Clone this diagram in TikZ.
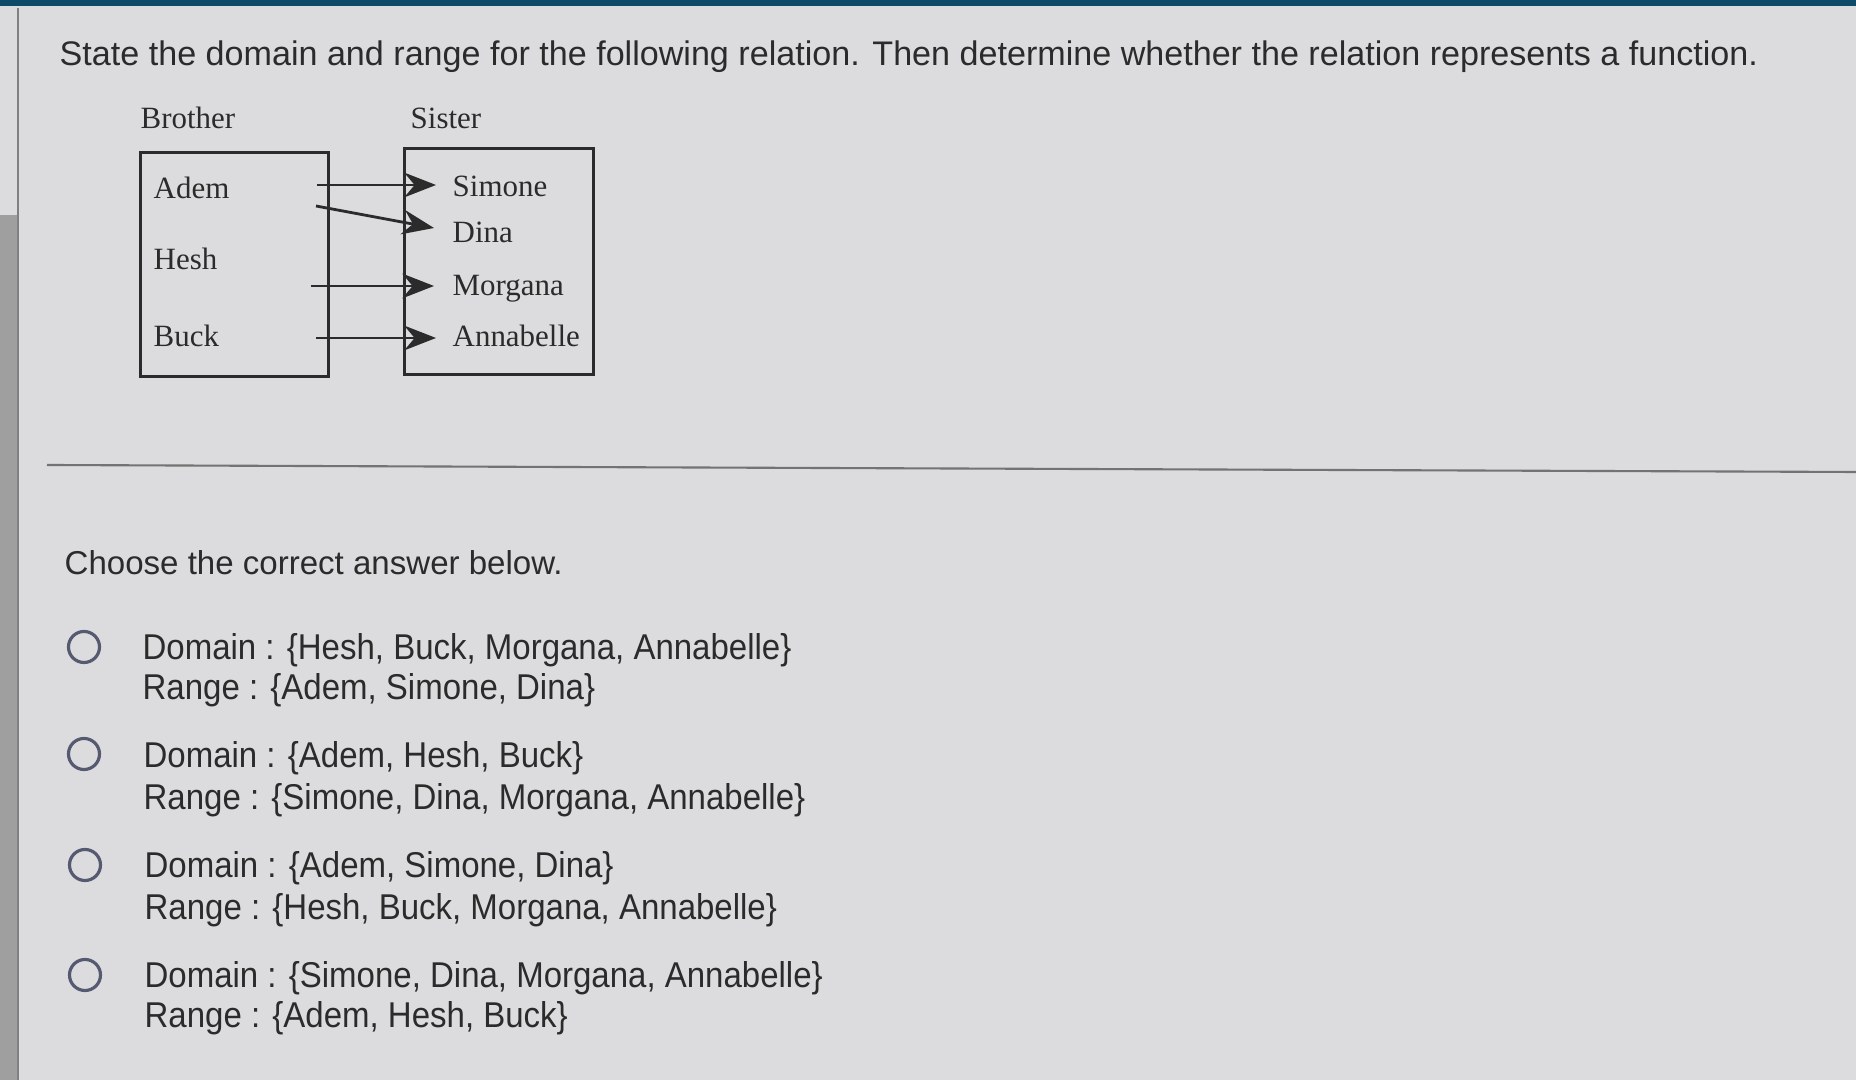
\documentclass[tikz,border=0pt]{standalone}
\usepackage{fontspec}
\setmainfont{Liberation Sans}
\newfontfamily\timesfont{Liberation Serif}
\usetikzlibrary{arrows.meta}
\definecolor{screen}{HTML}{DCDCDE}
\definecolor{ink}{HTML}{2B2B2B}
\definecolor{radio}{HTML}{555A70}
\definecolor{topbar}{HTML}{0D4C68}

\begin{document}
\begin{tikzpicture}[x=0.01cm, y=-0.01cm,
    txt/.style={anchor=base west, inner sep=0pt, text=ink, font=\fontsize{9.6}{11}\selectfont},
    option/.style={txt, font=\fontsize{10.2}{12}\selectfont, xscale=0.92, transform shape},
    person/.style={anchor=base west, inner sep=0pt, text=ink, font=\timesfont\fontsize{8.8}{10}\selectfont},
    setbox/.style={draw=ink, line width=0.9pt, anchor=north west, inner sep=0pt},
    rel/.style={-{Stealth[length=9pt,width=7pt]}, draw=ink, line width=0.8pt},
    choice/.style={circle, draw=radio, line width=0.9pt, minimum size=0.31cm, inner sep=0pt}]
    \fill[screen] (0,0) rectangle (1856,1080);
    \useasboundingbox (0,0) rectangle (1856,1080);
    \fill[topbar] (0,0) rectangle (1856,6);
    \fill[gray!75] (0,215) rectangle (17,1080);
    \draw[gray, line width=0.5pt] (18,8) -- (18,1080);

    \node[txt, font=\fontsize{9.7}{11}\selectfont] (question) at (59,66)
        {State the domain and range for the following relation. Then determine whether the relation represents a function.};

    \node[person] (brother) at (140,129) {Brother};
    \node[person] (sister) at (410,129) {Sister};
    \node[setbox, minimum width=1.88cm, minimum height=2.24cm] (brobox) at (139,151) {};
    \node[setbox, minimum width=1.89cm, minimum height=2.26cm] (sisbox) at (403,147) {};

    \node[person] (adem) at (153,199) {Adem};
    \node[person] (hesh) at (153,270) {Hesh};
    \node[person] (buck) at (153,347) {Buck};
    \node[person] (simone) at (452,197) {Simone};
    \node[person] (dina) at (452,243) {Dina};
    \node[person] (morgana) at (452,296) {Morgana};
    \node[person] (annabelle) at (452,347) {Annabelle};

    \coordinate (a1) at (317,185);
    \coordinate (a2) at (316,206);
    \coordinate (h1) at (311,286);
    \coordinate (b1) at (316,338);
    \draw[rel] (a1) -- (436,185) coordinate (t1);
    \draw[rel] (a2) -- (434,228) coordinate (t2);
    \draw[rel] (h1) -- (434,286) coordinate (t3);
    \draw[rel] (b1) -- (436,338) coordinate (t4);

    \draw[gray!90!black, line width=0.6pt] (47,465) -- (1856,472);

    \node[txt, font=\fontsize{9.4}{11}\selectfont] (prompt) at (64,575) {Choose the correct answer below.};

    \node[choice] (o1) at (84,647) {};
    \node[choice] (o2) at (84,754) {};
    \node[choice] (o3) at (85,865) {};
    \node[choice] (o4) at (85,975) {};

    \node[option] (d1) at (142,660) {Domain : \{Hesh, Buck, Morgana, Annabelle\}};
    \node[option] (r1) at (142,700) {Range : \{Adem, Simone, Dina\}};
    \node[option] (d2) at (143,768) {Domain : \{Adem, Hesh, Buck\}};
    \node[option] (r2) at (143,810) {Range : \{Simone, Dina, Morgana, Annabelle\}};
    \node[option] (d3) at (144,878) {Domain : \{Adem, Simone, Dina\}};
    \node[option] (r3) at (144,920) {Range : \{Hesh, Buck, Morgana, Annabelle\}};
    \node[option] (d4) at (144,988) {Domain : \{Simone, Dina, Morgana, Annabelle\}};
    \node[option] (r4) at (144,1028) {Range : \{Adem, Hesh, Buck\}};
\end{tikzpicture}
\end{document}
